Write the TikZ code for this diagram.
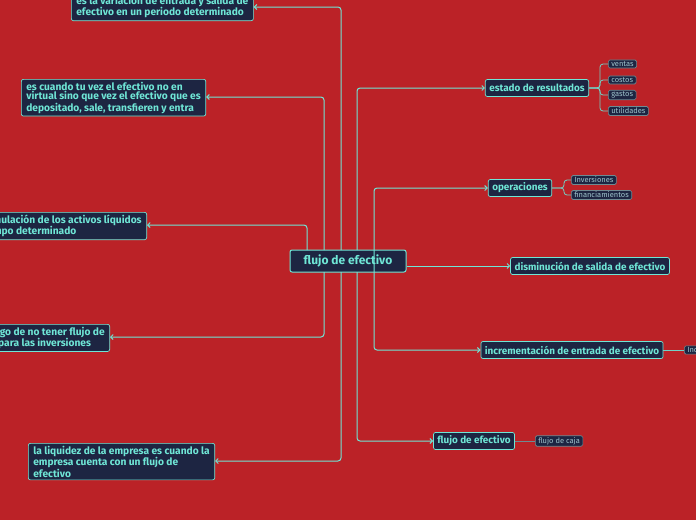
\documentclass[tikz,border=0pt]{standalone}
\usepackage{fontspec}
\setmainfont{Fira Sans}
\usetikzlibrary{arrows.meta}
\definecolor{bg}{HTML}{BB2227}
\definecolor{nf}{HTML}{1D2542}
\definecolor{cy}{HTML}{6FE6D6}
\definecolor{sub}{HTML}{9FC4CC}
\definecolor{subb}{HTML}{6E8A92}
\tikzset{
 main/.style={draw=cy,fill=nf,text=cy,rounded corners=2pt,line width=1pt,font=\bfseries\fontsize{12}{13}\selectfont,minimum width=116pt,minimum height=22pt,inner sep=2pt},
 big/.style={draw=cy,fill=nf,text=cy,rounded corners=2pt,line width=0.7pt,font=\bfseries\fontsize{10.2}{9.6}\selectfont,inner xsep=5pt,inner ysep=2.5pt,anchor=north west,align=left},
 mid/.style={draw=cy,fill=nf,text=cy,rounded corners=2pt,line width=0.7pt,font=\bfseries\fontsize{9.9}{10}\selectfont,inner xsep=4pt,inner ysep=2pt,minimum height=17pt},
 small/.style={draw=subb,fill=nf,text=sub,rounded corners=1.5pt,line width=0.6pt,font=\fontsize{7.5}{8}\selectfont,inner xsep=3pt,inner ysep=1.5pt,anchor=west},
 con/.style={draw=cy,line width=1pt,rounded corners=3pt,-{Straight Barb[length=2.5pt,width=5pt]}},
 scon/.style={draw=cy!80!gray,line width=0.8pt,rounded corners=3pt},
}
\begin{document}
\begin{tikzpicture}[x=1pt,y=-1pt]
\fill[bg] (0,0) rectangle (696,520);
\useasboundingbox (0,0) rectangle (696,520);
\clip (0,0) rectangle (696,520);
\node[main] (c) at (348,261) {flujo de efectivo};
\node[big] (l1) at (71,-7) {es la variación de entrada y salida de\\efectivo en un periodo determinado};
\node[big] (l2) at (21,79) {es cuando tu vez el efectivo no en\\virtual sino que vez el efectivo que es\\depositado, sale, transfieren y entra};
\node[big,anchor=north east] (l3) at (147,212) {es la acumulación de los activos líquidos\\en un tiempo determinado\hspace{62pt}};
\node[big,anchor=north east] (l4) at (110,324) {es el riesgo de no tener flujo de\\efectivo para las inversiones\hspace{2pt}};
\node[big] (l5) at (28,443) {la liquidez de la empresa es cuando la\\empresa cuenta con un flujo de\\efectivo};
\draw[con] (341,250) |- (l1.east|-0,7);
\draw[con] (324,250) |- (l2.east|-0,97);
\draw[con] (307,250) |- (l3.east|-0,225);
\draw[con] (324,272) |- (l4.east|-0,337);
\draw[con] (341,272) |- (l5.east|-0,461);
\node[mid] (r1) at (537,88) {estado de resultados};
\node[mid] (r2) at (520,188) {operaciones};
\node[mid] (r3) at (590,266) {disminución de salida de efectivo};
\node[mid] (r4) at (572,350) {incrementación de entrada de efectivo};
\node[mid] (r5) at (474,441) {flujo de efectivo};
\draw[con] (357,250) |- (r1.west);
\draw[con] (374,272) |- (r2.west);
\draw[con] (c.east|-r3.west) -- (r3.west);
\draw[con] (374,272) |- (r4.west);
\draw[con] (357,272) |- (r5.west);
\node[small] (v1) at (608,64) {ventas};
\node[small] (v2) at (608,80) {costos};
\node[small] (v3) at (608,95) {gastos};
\node[small] (v4) at (608,111) {utilidades};
\foreach \v in {v1,v2,v3,v4} \draw[scon] (r1.east) -| (600,0|-\v.west) -- (\v.west);
\node[small] (o1) at (571,180) {Inversiones};
\node[small] (o2) at (571,195) {financiamientos};
\foreach \v in {o1,o2} \draw[scon] (r2.east) -| (564,0|-\v.west) -- (\v.west);
\node[small] (i1) at (684,350) {Incremento};
\draw[scon] (r4.east) -- (i1.west);
\node[small] (f1) at (535,441) {flujo de caja};
\draw[scon,draw=subb] (r5.east) -- (f1.west);
\end{tikzpicture}
\end{document}
